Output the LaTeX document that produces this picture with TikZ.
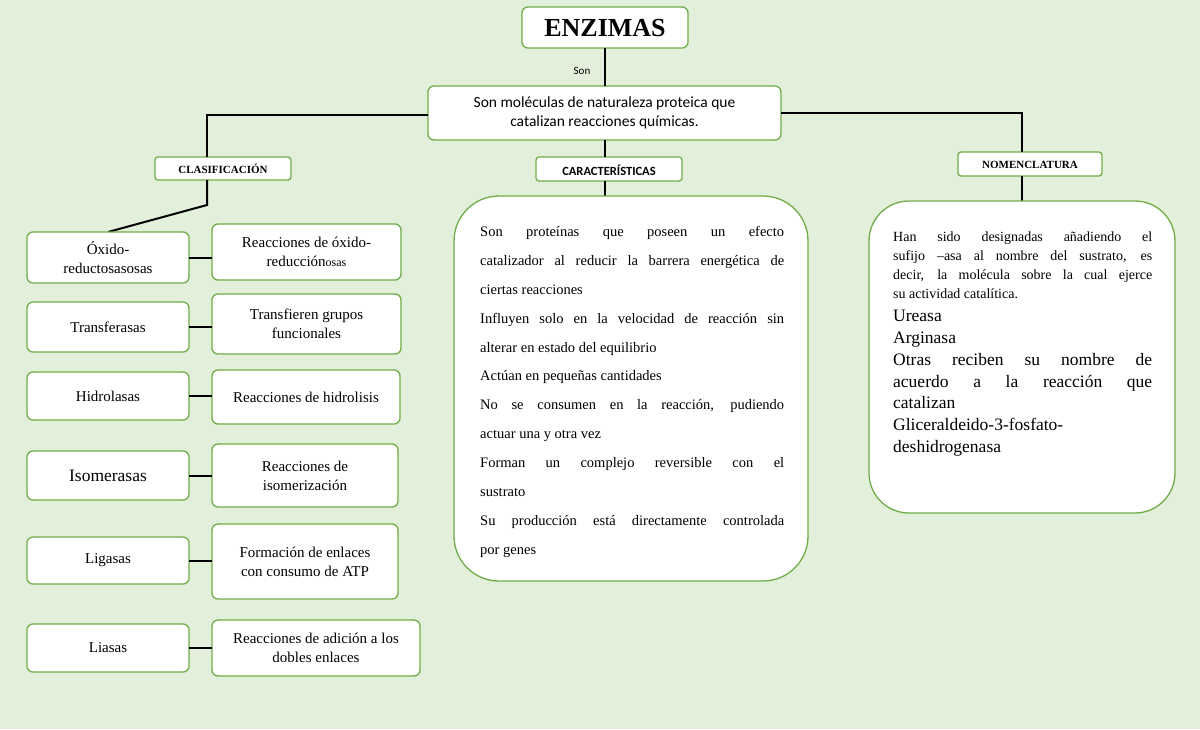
\documentclass[tikz,border=0pt]{standalone}
\usepackage{fontspec}
\setmainfont{Liberation Serif}
\newfontfamily\carl{Carlito}
\definecolor{bg}{HTML}{E2EFDA}
\definecolor{gb}{HTML}{70AD47}
\newcommand\jl[2]{\makebox[#1][s]{#2}}
\begin{document}
\begin{tikzpicture}[x=1pt,y=-1pt,
  box/.style={draw=gb,line width=1.3pt,fill=white,rounded corners=6pt},
  con/.style={line width=2pt,black}]
\fill[bg] (0,0) rectangle (1200,729);
\useasboundingbox (0,0) rectangle (1200,729);
\draw[box] (522,7) rectangle (688,48); \node (enz) at (605,28) {\fontsize{26}{28}\selectfont\bfseries ENZIMAS};
\node (son) at (582,71) {\carl\fontsize{11}{12}\selectfont Son};
\draw[box] (428,86) rectangle (781,140);
\node[align=center,font=\carl\fontsize{15.5}{19}\selectfont] (def) at (604.5,113) {Son moléculas de naturaleza proteica que\\catalizan reacciones químicas.};
\draw[box,rounded corners=3pt] (155,157) rectangle (291,180); \node (cla) at (223,169) {\fontsize{11}{12}\selectfont\bfseries CLASIFICACIÓN};
\draw[box,rounded corners=3pt] (536,157) rectangle (682,181); \node (car) at (609,170) {\carl\fontsize{12.5}{13}\selectfont\bfseries CARACTERÍSTICAS};
\draw[box,rounded corners=3pt] (958,152) rectangle (1102,176); \node (nom) at (1030,165) {\fontsize{11}{12}\selectfont\bfseries NOMENCLATURA};
\draw[con] (605,48) -- (605,86);
\draw[con] (428,115) -- (207,115) -- (207,157);
\draw[con] (781,113) -- (1022,113) -- (1022,152);
\draw[con] (605,140) -- (605,157);
\draw[con] (605,181) -- (605,196);
\draw[con] (1022,176) -- (1022,201);
\draw[con] (207,180) -- (207,205) -- (108,232);
\foreach \la/\lb/\ra/\rb/\rx/\lt/\rt [count=\i] in {
 232/283/224/280/401/{Óxido-\\reductosasosas}/{Reacciones de óxido-\\reducción{\fontsize{12}{12}\selectfont osas}},
 302/352/294/354/401/{Transferasas}/{Transfieren grupos\\funcionales},
 372/420/370/424/400/{Hidrolasas}/{Reacciones de hidrolisis},
 451/500/444/507/398/{\fontsize{17.5}{20}\selectfont Isomerasas}/{Reacciones de\\isomerización},
 537/584/524/599/398/{Ligasas}/{Formación de enlaces\\con consumo de ATP},
 624/672/620/676/420/{Liasas}/{Reacciones de adición a los\\dobles enlaces}}{
 \draw[box] (27,\la) rectangle (189,\lb);
 \draw[box] (212,\ra) rectangle (\rx,\rb);
 \node[align=center,font=\fontsize{15}{19}\selectfont] (l\i) at (108,{(\la+\lb)/2}) {\lt};
 \node[align=center,font=\fontsize{15}{19}\selectfont] (r\i) at ({(212+\rx)/2},{(\ra+\rb)/2}) {\rt};
 \draw[con] (189,{(\la+\lb)/2}) -- (212,{(\la+\lb)/2});
}
\draw[box,rounded corners=45pt] (454,196) rectangle (808,581);
\node[anchor=north west,inner sep=0pt,align=left,font=\fontsize{14.5}{28.9}\selectfont] (ct) at (480,226) {%
\jl{304pt}{Son proteínas que poseen un efecto}\\
\jl{304pt}{catalizador al reducir la barrera energética de}\\
ciertas reacciones\\
\jl{304pt}{Influyen solo en la velocidad de reacción sin}\\
alterar en estado del equilibrio\\
Actúan en pequeñas cantidades\\
\jl{304pt}{No se consumen en la reacción, pudiendo}\\
actuar una y otra vez\\
\jl{304pt}{Forman un complejo reversible con el}\\
sustrato\\
\jl{304pt}{Su producción está directamente controlada}\\
por genes};
\draw[box,rounded corners=40pt] (869,201) rectangle (1175,513);
\node[anchor=north west,inner sep=0pt,align=left,font=\fontsize{14}{19}\selectfont] (nt) at (893,232) {%
\jl{259pt}{Han sido designadas añadiendo el}\\
\jl{259pt}{sufijo –asa al nombre del sustrato, es}\\
\jl{259pt}{decir, la molécula sobre la cual ejerce}\\
su actividad catalítica.};
\node[anchor=north west,inner sep=0pt,align=left,font=\fontsize{17.5}{21.8}\selectfont] (nt2) at (893,310) {%
Ureasa\\
Arginasa\\
\jl{259pt}{Otras reciben su nombre de}\\
\jl{259pt}{acuerdo a la reacción que}\\
catalizan\\
Gliceraldeido-3-fosfato-\\
deshidrogenasa};
\end{tikzpicture}
\end{document}
